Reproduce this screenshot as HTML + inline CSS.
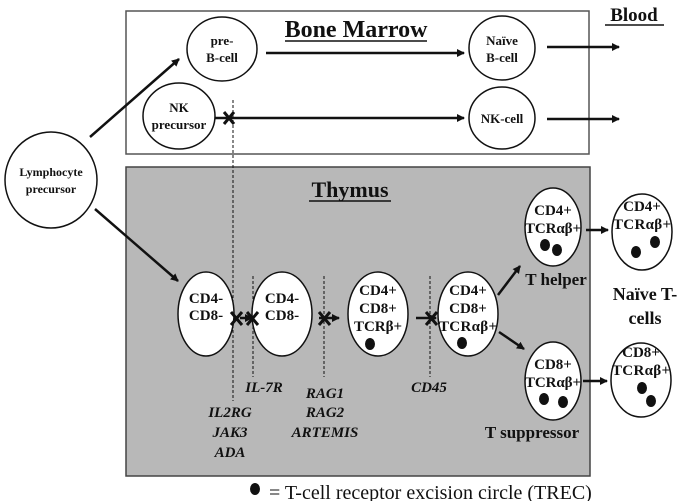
<!DOCTYPE html>
<html><head><meta charset="utf-8"><style>body{margin:0;background:#fff}svg{display:block}text{font-family:"Liberation Serif",serif;font-weight:bold;fill:#111}</style></head>
<body>
<svg width="685" height="501" viewBox="0 0 685 501" xmlns="http://www.w3.org/2000/svg">
<defs><marker id="a" markerWidth="8" markerHeight="8" refX="7" refY="4" orient="auto" markerUnits="userSpaceOnUse"><path d="M0,0 L8,4 L0,8 z" fill="#111"/></marker></defs>
<rect x="126" y="11" width="463" height="143" fill="#fff" stroke="#555" stroke-width="1.5"/>
<rect x="126" y="167" width="464" height="309" fill="#b8b8b8" stroke="#444" stroke-width="1.5"/>
<g stroke="#111" stroke-width="2.5" fill="none" marker-end="url(#a)">
<line x1="90" y1="137" x2="179" y2="59"/>
<line x1="95" y1="209" x2="178" y2="281"/>
<line x1="266" y1="53" x2="464" y2="53"/>
<line x1="215" y1="118" x2="464" y2="118"/>
<line x1="547" y1="47" x2="619" y2="47"/>
<line x1="547" y1="119" x2="619" y2="119"/>
<line x1="240" y1="318" x2="252" y2="318"/>
<line x1="319" y1="318" x2="339" y2="318"/>
<line x1="416" y1="318" x2="436" y2="318"/>
<line x1="498" y1="295" x2="520" y2="266"/>
<line x1="499" y1="332" x2="524" y2="349"/>
<line x1="586" y1="230" x2="608" y2="230"/>
<line x1="583" y1="381" x2="607" y2="381"/>
</g>
<g stroke="#111" stroke-width="1" stroke-dasharray="3,2">
<line x1="233" y1="100" x2="233" y2="401"/>
<line x1="253" y1="276" x2="253" y2="377"/>
<line x1="324" y1="276" x2="324" y2="377"/>
<line x1="430" y1="276" x2="430" y2="377"/>
</g>
<g fill="#fff" stroke="#111" stroke-width="1.5">
<ellipse cx="51" cy="180" rx="46" ry="48"/>
<ellipse cx="222" cy="49" rx="35" ry="32"/>
<ellipse cx="179" cy="116" rx="36" ry="33"/>
<ellipse cx="502" cy="48" rx="33" ry="32"/>
<ellipse cx="502" cy="118" rx="33" ry="31"/>
<ellipse cx="206" cy="314" rx="28" ry="42"/>
<ellipse cx="282" cy="314" rx="30" ry="42"/>
<ellipse cx="378" cy="314" rx="30" ry="42"/>
<ellipse cx="468" cy="314" rx="30" ry="42"/>
<ellipse cx="553" cy="227" rx="28" ry="39"/>
<ellipse cx="553" cy="381" rx="28" ry="39"/>
<ellipse cx="642" cy="232" rx="30" ry="38"/>
<ellipse cx="641" cy="380" rx="30" ry="37"/>
</g>
<g fill="#111">
<ellipse cx="370" cy="344" rx="5" ry="6"/><ellipse cx="462" cy="343" rx="5" ry="6"/>
<ellipse cx="545" cy="245" rx="5" ry="6"/><ellipse cx="557" cy="250" rx="5" ry="6"/>
<ellipse cx="636" cy="252" rx="5" ry="6"/><ellipse cx="655" cy="242" rx="5" ry="6"/>
<ellipse cx="544" cy="399" rx="5" ry="6"/><ellipse cx="563" cy="402" rx="5" ry="6"/>
<ellipse cx="642" cy="388" rx="5" ry="6"/><ellipse cx="651" cy="401" rx="5" ry="6"/>
<ellipse cx="255" cy="489" rx="5" ry="6"/>
</g>
<g stroke="#111" stroke-width="3">
<path d="M224,112 L234,124 M234,112 L224,124"/>
<path d="M231,312 L242,325 M242,312 L231,325"/>
<path d="M247,312 L258,325 M258,312 L247,325"/>
<path d="M319,312 L330,325 M330,312 L319,325"/>
<path d="M426,312 L437,325 M437,312 L426,325"/>
</g>
<g text-anchor="middle" font-size="13">
<text x="51" y="176" style="font-size:12px">Lymphocyte</text><text x="51" y="193" style="font-size:12px">precursor</text>
<text x="222" y="45">pre-</text><text x="222" y="62">B-cell</text>
<text x="179" y="112">NK</text><text x="179" y="129">precursor</text>
<text x="502" y="45">Naïve</text><text x="502" y="62">B-cell</text>
<text x="502" y="123">NK-cell</text>
</g>
<g text-anchor="middle" font-size="15">
<text x="206" y="303">CD4-</text><text x="206" y="320">CD8-</text>
<text x="282" y="303">CD4-</text><text x="282" y="320">CD8-</text>
<text x="378" y="295">CD4+</text><text x="378" y="313">CD8+</text><text x="378" y="331">TCRβ+</text>
<text x="468" y="295">CD4+</text><text x="468" y="313">CD8+</text><text x="468" y="331" textLength="58">TCRαβ+</text>
<text x="553" y="215">CD4+</text><text x="553" y="233" textLength="56">TCRαβ+</text>
<text x="553" y="369">CD8+</text><text x="553" y="387" textLength="56">TCRαβ+</text>
<text x="642" y="211">CD4+</text><text x="642" y="229" textLength="58">TCRαβ+</text>
<text x="641" y="357">CD8+</text><text x="641" y="375" textLength="58">TCRαβ+</text>
</g>
<g text-anchor="middle" font-size="15" font-style="italic">
<text x="264" y="392">IL-7R</text>
<text x="230" y="417">IL2RG</text><text x="230" y="437">JAK3</text><text x="230" y="457">ADA</text>
<text x="325" y="398">RAG1</text><text x="325" y="417">RAG2</text><text x="325" y="437">ARTEMIS</text>
<text x="429" y="392">CD45</text>
</g>
<text x="556" y="285" text-anchor="middle" font-size="17">T helper</text>
<text x="532" y="438" text-anchor="middle" font-size="17">T suppressor</text>
<text x="645" y="300" text-anchor="middle" font-size="18">Naïve T-</text>
<text x="645" y="324" text-anchor="middle" font-size="18">cells</text>
<text x="356" y="37" text-anchor="middle" font-size="24">Bone Marrow</text>
<line x1="285" y1="41" x2="427" y2="41" stroke="#111" stroke-width="1.5"/>
<text x="350" y="197" text-anchor="middle" font-size="22">Thymus</text>
<line x1="309" y1="201" x2="391" y2="201" stroke="#111" stroke-width="1.5"/>
<text x="634" y="21" text-anchor="middle" font-size="19">Blood</text>
<line x1="605" y1="25" x2="664" y2="25" stroke="#111" stroke-width="1.5"/>
<text x="269" y="499" style="font-size:20px;font-weight:normal">= T-cell receptor excision circle (TREC)</text>
</svg>
</body></html>
